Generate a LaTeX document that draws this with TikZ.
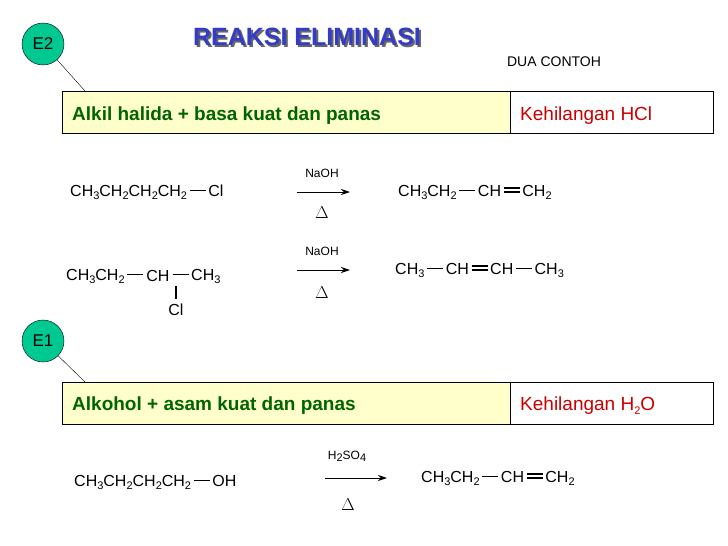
\documentclass[tikz,border=0pt]{standalone}
\usepackage{fontspec}
\setmainfont{Liberation Sans}
\newcommand{\chsub}[1]{\raisebox{-0.35ex}{\fontsize{11}{11}\selectfont #1}}
\newcommand{\sbond}{\,\rule[0.33em]{1em}{1.2pt}\,}
\newcommand{\dbond}{\,\rlap{\rule[0.22em]{1em}{1.2pt}}\rule[0.46em]{1em}{1.2pt}\,}
\definecolor{tealc}{RGB}{0,200,145}
\definecolor{titleb}{RGB}{50,60,200}
\definecolor{ylw}{RGB}{255,255,204}
\definecolor{grn}{RGB}{0,100,0}
\definecolor{redc}{RGB}{200,0,0}
\usetikzlibrary{arrows.meta}
\tikzset{
 circ/.style={circle,draw,fill=tealc,minimum size=42pt,inner sep=0,font=\fontsize{17}{17}\selectfont},
 chem/.style={anchor=west,inner sep=0,font=\fontsize{16}{16}\selectfont},
 reag/.style={inner sep=0,font=\fontsize{12}{12}\selectfont},
 delta/.style={inner sep=0,font=\fontsize{17}{17}\selectfont\rmfamily},
 hdr/.style={anchor=west,inner sep=0,font=\bfseries\fontsize{19}{19}\selectfont,text=grn},
 loss/.style={anchor=west,inner sep=0,font=\fontsize{19}{19}\selectfont,text=redc},
 arr/.style={-{Stealth[length=9pt,width=6pt]},line width=1pt}
}
\begin{document}
\begin{tikzpicture}[x=1pt,y=-1pt]
\useasboundingbox (0,0) rectangle (728,546);
% title
\node[font=\bfseries\fontsize{25}{25}\selectfont,text=black!60] at (309,39) {REAKSI ELIMINASI};
\node (title) [font=\bfseries\fontsize{25}{25}\selectfont,text=titleb] at (307,37) {REAKSI ELIMINASI};
\node (dua) [font=\fontsize{14}{14}\selectfont] at (554,62) {DUA CONTOH};
% E2
\node (e2) [circ] at (43,44) {E2};
\draw[fill=ylw] (62,91) rectangle (510,133);
\draw (510,91) rectangle (713,133);
\coordinate (c2) at (85,91);
\draw (e2) -- (c2);
\node (h1) [hdr] at (72,116) {Alkil halida + basa kuat dan panas};
\node (l1) [loss] at (520,116) {Kehilangan HCl};
% row1
\node (r1) [chem] at (70,192) {CH\chsub{3}CH\chsub{2}CH\chsub{2}CH\chsub{2}\sbond Cl};
\coordinate (a1s) at (297,192); \coordinate (a1e) at (350,192);
\draw[arr] (a1s) -- (a1e);
\node (n1) [reag] at (322,173) {NaOH};
\node (d1) [delta] at (322,213) {$\Delta$};
\node (p1) [chem] at (398,192) {CH\chsub{3}CH\chsub{2}\sbond CH\dbond CH\chsub{2}};
% row2
\node (r2a) [chem] at (66,276) {CH\chsub{3}CH\chsub{2}\sbond};
\node (r2b) [chem] at (r2a.east) {CH};
\node (r2c) [chem] at (r2b.east) {\sbond CH\chsub{3}};
\node (cl) [inner sep=0,font=\fontsize{16}{16}\selectfont] at (176,310) {Cl};
\draw[line width=1.2pt] (176,286) -- (176,299);
\coordinate (a2s) at (297,270); \coordinate (a2e) at (350,270);
\draw[arr] (a2s) -- (a2e);
\node (n2) [reag] at (322,251) {NaOH};
\node (d2) [delta] at (322,293) {$\Delta$};
\node (p2) [chem] at (395,270) {CH\chsub{3}\sbond CH\dbond CH\sbond CH\chsub{3}};
% E1
\node (e1) [circ] at (43,341) {E1};
\draw[fill=ylw] (62,382) rectangle (510,424);
\draw (510,382) rectangle (713,424);
\coordinate (c1) at (85,382);
\draw (e1) -- (c1);
\node (h2) [hdr] at (72,406) {Alkohol + asam kuat dan panas};
\node (l2) [loss] at (520,406) {Kehilangan H\chsub{2}O};
% row3
\node (r3) [chem] at (74,482) {CH\chsub{3}CH\chsub{2}CH\chsub{2}CH\chsub{2}\sbond OH};
\coordinate (a3s) at (325,478); \coordinate (a3e) at (387,478);
\draw[arr] (a3s) -- (a3e);
\node (n3) [reag] at (347,456) {H\chsub{2}SO\chsub{4}};
\node (d3) [delta] at (348,505) {$\Delta$};
\node (p3) [chem] at (421,478) {CH\chsub{3}CH\chsub{2}\sbond CH\dbond CH\chsub{2}};
\end{tikzpicture}
\end{document}
